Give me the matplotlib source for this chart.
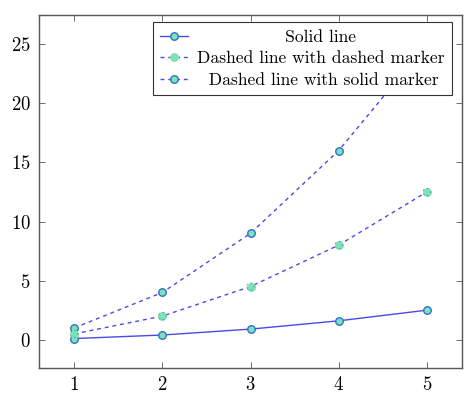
import numpy as np
import matplotlib
matplotlib.use("Agg")
import matplotlib.pyplot as plt
from matplotlib.lines import Line2D

plt.rcParams["font.family"] = ["cmr10", "DejaVu Serif"]
plt.rcParams["mathtext.fontset"] = "cm"
plt.rcParams["axes.formatter.use_mathtext"] = True

# data
x = [1, 2, 3, 4, 5]
y_solid = [0.1, 0.4, 0.9, 1.6, 2.5]
y_dash_dashmark = [0.5, 2.0, 4.5, 8.0, 12.5]
y_dash_solidmark = [1, 4, 9, 16, 25]

labels = ["Solid line", "Dashed line with dashed marker", "Dashed line with solid marker"]
x_ticks = [1, 2, 3, 4, 5]
y_ticks = [0, 5, 10, 15, 20, 25]

line_col = "#4a4ae8"
face_col = "#7ee3b4"
edge_col = "#2f6fd0"

fig = plt.figure(figsize=(4.74, 3.99), dpi=100)
ax = fig.add_axes([0.0823, 0.0777, 0.8924, 0.8853])

dash = (0, (2.8, 2.8))

ax.plot(x, y_solid, color=line_col, lw=1.0, marker="o", ms=5.4,
        mfc=face_col, mec=edge_col, mew=1.0)

# dashed line; marker edge dashed too (scatter so the edge can be dashed)
ax.plot(x, y_dash_dashmark, color=line_col, lw=1.0, ls=dash, zorder=2)
ax.scatter(x, y_dash_dashmark, s=29, c=face_col, edgecolors=face_col,
           linewidths=1.0, zorder=3)
ax.scatter(x, y_dash_dashmark, s=29, facecolors="none", edgecolors=edge_col,
           linewidths=0.7, linestyles=(0, (2.0, 3.0)), alpha=0.6, zorder=4)

ax.plot(x, y_dash_solidmark, color=line_col, lw=1.0, ls=dash, marker="o", ms=5.4,
        mfc=face_col, mec=edge_col, mew=1.0)

ax.set_xlim(0.6, 5.4)
ax.set_ylim(-2.39, 27.49)
ax.set_xticks(x_ticks)
ax.set_yticks(y_ticks)
ax.tick_params(direction="in", top=True, right=True, length=4, width=0.6,
               color="#555555", labelsize=13.5, pad=6)
for s in ax.spines.values():
    s.set_color("#555555")
    s.set_linewidth(1.0)

# legend handles
h1 = Line2D([], [], color=line_col, lw=1.0, marker="o", ms=5.4, mfc=face_col, mec=edge_col, mew=1.0)
h2 = Line2D([], [], color=line_col, lw=1.0, ls=dash, marker="o", ms=5.4, mfc=face_col, mec=face_col, mew=1.0)
h3 = Line2D([], [], color=line_col, lw=1.0, ls=dash, marker="o", ms=5.4, mfc=face_col, mec=edge_col, mew=1.0)

leg = ax.legend([h1, h2, h3],
                ["               " + labels[0], labels[1], "  " + labels[2]],
                loc="upper right", bbox_to_anchor=(0.976, 0.979),
                fontsize=12.6, frameon=True, fancybox=False, edgecolor="#333333",
                framealpha=1, handlelength=1.6, handletextpad=0.5,
                labelspacing=0.36, borderpad=0.42, borderaxespad=0)
leg.get_frame().set_linewidth(0.8)

fig.savefig("out.png", dpi=100)
